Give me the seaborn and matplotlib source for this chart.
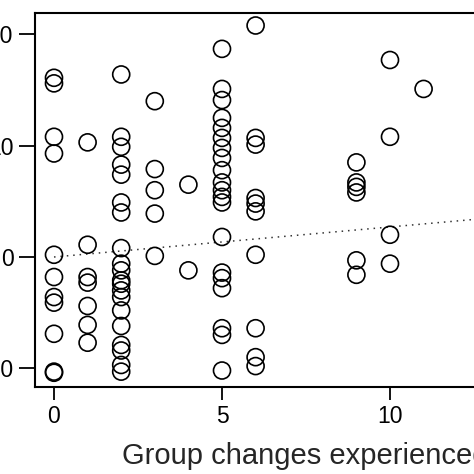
import numpy as np
import pandas as pd
import matplotlib
matplotlib.use("Agg")
import matplotlib.pyplot as plt
import seaborn as sns

# ---- data ----
x0 = [16.1, 15.6, 10.8, 9.3, 0.2, -1.8, -3.6, -4.1, -6.9, -10.3, -10.4]
x1 = [10.3, 1.1, -1.8, -2.3, -4.4, -6.1, -7.7]
x2 = [16.4, 10.8, 9.9, 8.3, 7.4, 4.9, 4.0, 0.8, -0.6, -1.2, -2.1, -2.4, -3.0,
      -3.6, -4.8, -6.2, -7.9, -8.4, -9.7, -10.3]
x3 = [14.0, 7.9, 6.0, 3.9, 0.1]
x4 = [6.5, -1.2]
x5 = [18.7, 15.1, 14.1, 12.5, 11.6, 10.7, 9.8, 8.9, 7.8, 6.7, 6.0, 5.4, 4.9,
      1.8, -1.4, -1.9, -2.8, -6.4, -7.0, -10.2]
x6 = [20.8, 10.7, 10.1, 5.3, 4.8, 4.1, 0.2, -6.4, -9.0, -9.8]
x9 = [8.5, 6.7, 6.3, 5.8, -0.3, -1.6]
x10 = [17.7, 10.8, 2.0, -0.6]
x11 = [15.1]

groups = {0: x0, 1: x1, 2: x2, 3: x3, 4: x4, 5: x5, 6: x6, 9: x9, 10: x10, 11: x11}

fit_intercept = 0.0
fit_slope = 0.27

x_ticks = [0, 5, 10]
y_ticks = [20, 10, 0, -10]
y_tick_labels = ["20", "10", "0", "-10"]
x_label = "Group changes experienced"

rows = [(k, v) for k, vals in groups.items() for v in vals]
df = pd.DataFrame(rows, columns=["changes", "value"])

# ---- figure ----
sns.set_style("ticks")
plt.rcParams["font.family"] = ["Liberation Sans", "DejaVu Sans"]

W = H = 474
fig = plt.figure(figsize=(4.74, 4.74), dpi=100)
left_px, right_px, top_px, bottom_px = 35, 575, 12.7, 387
ax = fig.add_axes([left_px / W, 1 - bottom_px / H,
                   (right_px - left_px) / W, (bottom_px - top_px) / H])

sns.scatterplot(data=df, x="changes", y="value", ax=ax, marker="o", s=150,
                facecolors="none", edgecolors="black", linewidth=1.2,
                legend=False, zorder=3)

xl = np.array([0, 16])
ax.plot(xl, fit_intercept + fit_slope * xl, color="#333333",
        linestyle=(0, (1, 3.2)), linewidth=1.1, zorder=2)

px_per_x = 33.6
x0px = 54
ax.set_xlim((left_px - x0px) / px_per_x, (right_px - x0px) / px_per_x)
px_per_y = 11.13
ax.set_ylim((257 - bottom_px) / px_per_y, (257 - top_px) / px_per_y)

ax.set_xticks(x_ticks)
ax.set_xticklabels([str(t) for t in x_ticks])
ax.set_yticks(y_ticks)
ax.set_yticklabels(y_tick_labels)
ax.tick_params(axis="x", length=9, width=1.3, labelsize=16.5, pad=4,
               color="black", labelcolor="black", direction="out")
ax.tick_params(axis="y", length=11.5, width=1.3, labelsize=16.5, pad=4,
               color="black", labelcolor="black", direction="out")
for s in ax.spines.values():
    s.set_linewidth(1.5)
    s.set_color("black")

ax.set_xlabel(x_label, fontsize=21, labelpad=10)
ax.set_ylabel("")

fig.savefig("out.png", dpi=100, facecolor="white")
